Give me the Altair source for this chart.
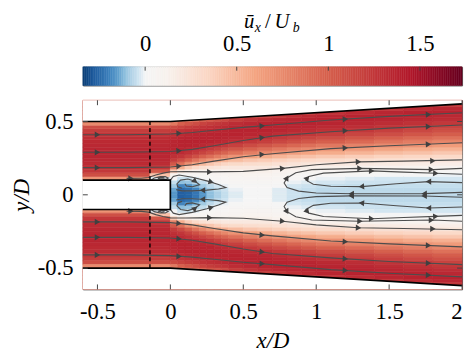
import altair as alt
import numpy as np
import pandas as pd

FONT = "Liberation Serif"

# ---------------- data ----------------
# mean axial velocity u_x/U_b on cells: column edges in x/D, row edges in |y|/D
# (upper half, mirrored to the lower half)
x_edges = [-0.6, -0.14, 0.0, 0.05, 0.1, 0.15, 0.2, 0.25, 0.3, 0.35, 0.4, 0.5,
           0.6, 0.7, 0.8, 0.9, 1.0, 1.2, 1.4, 1.6, 1.8, 2.0]
y_edges = [0.0, 0.025, 0.05, 0.075, 0.1, 0.125, 0.15, 0.175, 0.2, 0.225, 0.25, 0.275,
           0.3, 0.325, 0.35, 0.375, 0.4, 0.425, 0.45, 0.475, 0.5, 0.525, 0.55, 0.575,
           0.6, 0.625, 0.645]
profiles = [
    [0, 0, 0, 0, 0.7, 1.1, 1.25, 1.3, 1.33, 1.35, 1.36, 1.36, 1.36, 1.35, 1.34, 1.32,
     1.28, 1.22, 1.12, 0.75, 1, 1, 1, 1, 1, 1],
    [0, 0, 0, 0, -0.02, 0.45, 1.05, 1.25, 1.32, 1.35, 1.36, 1.36, 1.36, 1.35, 1.34, 1.32,
     1.28, 1.22, 1.12, 0.75, 1, 1, 1, 1, 1, 1],
    [-0.16, -0.14, -0.09, -0.05, 0.0, 0.1, 0.4, 0.8, 1.05, 1.22, 1.3, 1.35, 1.37, 1.37, 1.36,
     1.34, 1.3, 1.24, 1.14, 0.85, 0.7, 1, 1, 1, 1, 1],
    [-0.27, -0.25, -0.19, -0.11, -0.04, 0.03, 0.22, 0.55, 0.9, 1.12, 1.26, 1.33, 1.37, 1.38,
     1.38, 1.36, 1.33, 1.28, 1.18, 1.0, 0.8, 1, 1, 1, 1, 1],
    [-0.26, -0.23, -0.17, -0.1, -0.04, 0.03, 0.16, 0.4, 0.72, 1.0, 1.18, 1.29, 1.35, 1.38,
     1.38, 1.37, 1.35, 1.3, 1.22, 1.06, 0.85, 1, 1, 1, 1, 1],
    [-0.22, -0.19, -0.13, -0.07, -0.02, 0.04, 0.13, 0.32, 0.6, 0.88, 1.1, 1.24, 1.33, 1.37,
     1.38, 1.38, 1.36, 1.32, 1.25, 1.12, 0.92, 1, 1, 1, 1, 1],
    [-0.16, -0.13, -0.09, -0.05, 0.0, 0.05, 0.12, 0.27, 0.5, 0.77, 1.0, 1.17, 1.29, 1.35,
     1.38, 1.38, 1.37, 1.34, 1.28, 1.18, 1.0, 0.9, 1, 1, 1, 1],
    [-0.11, -0.09, -0.06, -0.02, 0.02, 0.06, 0.12, 0.24, 0.43, 0.68, 0.92, 1.1, 1.24, 1.32,
     1.37, 1.38, 1.38, 1.35, 1.3, 1.22, 1.05, 1, 1, 1, 1, 1],
    [-0.08, -0.06, -0.03, 0.0, 0.03, 0.07, 0.12, 0.22, 0.38, 0.6, 0.84, 1.03, 1.18, 1.29,
     1.35, 1.38, 1.38, 1.36, 1.32, 1.25, 1.1, 1, 1, 1, 1, 1],
    [-0.05, -0.04, -0.01, 0.02, 0.04, 0.08, 0.12, 0.2, 0.34, 0.54, 0.77, 0.97, 1.12, 1.25,
     1.33, 1.37, 1.38, 1.37, 1.34, 1.28, 1.15, 1, 1, 1, 1, 1],
    [-0.02, -0.01, 0.01, 0.03, 0.06, 0.09, 0.13, 0.2, 0.31, 0.48, 0.7, 0.9, 1.06, 1.2, 1.3,
     1.35, 1.38, 1.38, 1.36, 1.32, 1.22, 1.1, 1, 1, 1, 1],
    [0.0, 0.0, 0.02, 0.04, 0.07, 0.1, 0.14, 0.2, 0.29, 0.43, 0.62, 0.82, 0.99, 1.13, 1.25,
     1.32, 1.36, 1.38, 1.38, 1.35, 1.28, 1.15, 1, 1, 1, 1],
    [0.0, 0.0, 0.02, 0.04, 0.07, 0.1, 0.14, 0.2, 0.28, 0.4, 0.56, 0.75, 0.92, 1.07, 1.2,
     1.29, 1.35, 1.38, 1.38, 1.37, 1.32, 1.2, 1.05, 1, 1, 1],
    [-0.02, -0.02, 0.0, 0.02, 0.05, 0.08, 0.12, 0.18, 0.26, 0.37, 0.52, 0.69, 0.86, 1.01,
     1.15, 1.25, 1.32, 1.36, 1.38, 1.38, 1.35, 1.25, 1.1, 1, 1, 1],
    [-0.04, -0.04, -0.03, -0.01, 0.02, 0.05, 0.1, 0.16, 0.24, 0.34, 0.48, 0.64, 0.8, 0.96,
     1.1, 1.21, 1.29, 1.34, 1.37, 1.38, 1.36, 1.3, 1.15, 1, 1, 1],
    [-0.05, -0.05, -0.04, -0.02, 0.0, 0.03, 0.08, 0.14, 0.22, 0.32, 0.45, 0.6, 0.76, 0.91,
     1.05, 1.17, 1.26, 1.32, 1.36, 1.38, 1.37, 1.33, 1.2, 1.05, 1, 1],
    [-0.06, -0.06, -0.05, -0.03, -0.01, 0.02, 0.07, 0.13, 0.2, 0.3, 0.42, 0.56, 0.71, 0.86,
     1.0, 1.12, 1.22, 1.29, 1.34, 1.37, 1.38, 1.36, 1.28, 1.12, 1, 1],
    [-0.06, -0.06, -0.05, -0.04, -0.02, 0.01, 0.06, 0.12, 0.19, 0.28, 0.39, 0.52, 0.66, 0.8,
     0.94, 1.06, 1.17, 1.25, 1.31, 1.35, 1.38, 1.38, 1.33, 1.2, 1.05, 1],
    [-0.06, -0.06, -0.05, -0.04, -0.03, 0.0, 0.05, 0.11, 0.18, 0.26, 0.36, 0.48, 0.61, 0.75,
     0.88, 1.0, 1.11, 1.2, 1.27, 1.32, 1.36, 1.38, 1.36, 1.28, 1.12, 1],
    [-0.06, -0.06, -0.05, -0.04, -0.03, 0.0, 0.04, 0.1, 0.17, 0.25, 0.34, 0.45, 0.57, 0.7,
     0.83, 0.95, 1.06, 1.15, 1.23, 1.29, 1.34, 1.37, 1.38, 1.33, 1.2, 1],
    [-0.06, -0.06, -0.05, -0.04, -0.03, -0.01, 0.03, 0.09, 0.16, 0.23, 0.32, 0.42, 0.54,
     0.66, 0.78, 0.9, 1.01, 1.1, 1.18, 1.25, 1.31, 1.35, 1.38, 1.36, 1.26, 1.1],
]

wall_x = [-0.6, 0.0, 2.0]
wall_y = [0.5, 0.5, 0.62]
pipe_x = [-0.6, 0.0]
pipe_r = 0.1
dash_x = -0.14
dash_y = [0.1, 0.5]
y_top = 0.645

# streamlines, upper half (mirrored to the lower half)
streamlines = {
    "s1": [(-0.6, 0.41), (-0.3, 0.41), (0.0, 0.415), (0.15, 0.425), (0.3, 0.44), (0.5, 0.46),
           (0.7, 0.476), (1.1, 0.51), (1.5, 0.535), (2.0, 0.56)],
    "s2": [(-0.6, 0.29), (-0.3, 0.29), (0.0, 0.295), (0.15, 0.31), (0.3, 0.335), (0.5, 0.37),
           (0.7, 0.40), (1.1, 0.43), (1.5, 0.455), (2.0, 0.476)],
    "s3": [(-0.6, 0.185), (-0.3, 0.185), (0.0, 0.19), (0.15, 0.205), (0.3, 0.23), (0.5, 0.26),
           (0.7, 0.28), (1.1, 0.315), (1.5, 0.335), (2.0, 0.355)],
    "s4": [(-0.3, 0.112), (-0.2, 0.113), (-0.15, 0.118), (-0.1, 0.135), (-0.05, 0.148),
           (0.0, 0.157), (0.1, 0.158), (0.27, 0.156), (0.5, 0.16), (0.77, 0.18), (1.0, 0.205),
           (1.29, 0.225), (1.6, 0.23), (2.0, 0.238)],
    "s5": [(2.0, 0.017), (1.74, 0.008), (1.24, 0.007), (1.0, 0.012), (0.88, 0.025), (0.8, 0.05),
           (0.78, 0.08), (0.8, 0.115), (0.86, 0.15), (0.97, 0.172), (1.3, 0.18), (1.6, 0.175),
           (1.8, 0.172), (2.0, 0.18)],
    "s6": [(2.0, 0.083), (1.77, 0.09), (1.55, 0.075), (1.31, 0.056), (1.1, 0.058), (0.98, 0.072),
           (0.93, 0.1), (0.95, 0.125), (1.05, 0.148), (1.38, 0.163), (1.6, 0.155), (1.82, 0.147),
           (2.0, 0.14)],
    "w1": [(0.0, 0.1), (0.02, 0.125), (0.06, 0.135), (0.15, 0.12), (0.25, 0.095), (0.33, 0.07),
           (0.38, 0.05), (0.33, 0.04), (0.25, 0.032), (0.15, 0.027), (0.08, 0.027), (0.04, 0.035)],
    "w2": [(0.08, 0.045), (0.05, 0.055), (0.045, 0.075), (0.07, 0.1), (0.12, 0.108), (0.17, 0.092),
           (0.2, 0.068), (0.15, 0.055), (0.11, 0.06), (0.1, 0.075)],
    "c1": [(-0.13, 0.102), (-0.11, 0.115), (-0.07, 0.124), (-0.035, 0.124), (-0.015, 0.114),
           (-0.03, 0.105), (-0.065, 0.106), (-0.085, 0.112), (-0.06, 0.117), (-0.04, 0.115)],
}
# arrows: x, y (upper half), direction angle in degrees (screen, clockwise)
arrows = [
    (-0.5, 0.41, 0), (0.06, 0.42, -2), (0.63, 0.47, -3), (1.2, 0.516, -3), (1.77, 0.548, -2),
    (-0.5, 0.29, 0), (0.06, 0.30, -3), (0.63, 0.39, -6), (1.2, 0.437, -3), (1.77, 0.466, -2),
    (-0.5, 0.185, 0), (0.06, 0.195, -3), (0.63, 0.275, -4), (1.2, 0.32, -3), (1.77, 0.345, -2),
    (-0.27, 0.112, 0), (0.27, 0.156, 0), (0.77, 0.18, -5), (1.29, 0.225, -2), (1.8, 0.232, -1),
    (1.74, 0.008, 180), (1.24, 0.007, 180), (0.8, 0.115, -60), (1.3, 0.18, 0), (1.79, 0.172, 0),
    (1.77, 0.09, 180), (1.31, 0.056, 175), (0.94, 0.115, -50), (1.38, 0.163, 0), (1.82, 0.147, 3),
    (0.28, 0.087, 15), (0.22, 0.031, 180), (0.17, 0.092, 40),
]

x_ticks = [-0.5, 0, 0.5, 1, 1.5, 2]
y_ticks = [-0.5, 0, 0.5]
cb_ticks = [0, 0.5, 1, 1.5]
cb_min, cb_max = -0.34, 1.73
cb_domain = [-0.34, -0.28, -0.2, -0.15, -0.11, -0.07, -0.03, 0.0, 0.12, 0.35, 0.6, 1.0,
             1.45, 1.73]
cb_colors = ["#0b3d75", "#1f5c9e", "#3c7fbb", "#5d9dcc", "#8fc0de", "#b5d5e8", "#d3e6f1",
             "#f5f5f5", "#f8f2ee", "#fbd6c3", "#f4a582", "#d6604d", "#b2182b", "#67001f"]

# ---------------- tables ----------------
cells = []
for i in range(len(x_edges) - 1):
    for j in range(len(y_edges) - 1):
        v = profiles[i][j]
        for s in (1, -1):
            a, b = s * y_edges[j], s * y_edges[j + 1]
            cells.append(dict(x=x_edges[i], x2=x_edges[i + 1], y=min(a, b), y2=max(a, b), u=v))
cells = pd.DataFrame(cells)

rows = []
for name, pts in streamlines.items():
    for s, tag in ((1, "u"), (-1, "l")):
        for k, (px, py) in enumerate(pts):
            rows.append(dict(sid=name + tag, o=k, x=px, y=s * py))
lines_df = pd.DataFrame(rows)

arr = []
for ax_, ay_, ang in arrows:
    arr.append(dict(x=ax_, y=ay_, ang=ang % 360))
    arr.append(dict(x=ax_, y=-ay_, ang=(-ang) % 360))
arr_df = pd.DataFrame(arr)

mask_df = pd.DataFrame(dict(x=wall_x, yu=wall_y, tu=[y_top] * len(wall_x),
                            yl=[-w for w in wall_y], tl=[-y_top] * len(wall_x)))
wall_rows = []
for s, tag in ((1, "u"), (-1, "l")):
    for k, (wx, wy) in enumerate(zip(wall_x, wall_y)):
        wall_rows.append(dict(sid=tag, o=k, x=wx, y=s * wy))
wall_df = pd.DataFrame(wall_rows)
pipe_df = pd.DataFrame(dict(x=[pipe_x[0]], x2=[pipe_x[1]], y=[-pipe_r], y2=[pipe_r]))
pipe_line = pd.DataFrame(dict(o=[0, 1, 2, 3], x=[pipe_x[0], pipe_x[1], pipe_x[1], pipe_x[0]],
                              y=[pipe_r, pipe_r, -pipe_r, -pipe_r]))
dash_df = pd.DataFrame(dict(x=[dash_x, dash_x], y=[dash_y[0], -dash_y[1]], y2=[dash_y[1], -dash_y[0]]))
xt_df = pd.DataFrame(dict(v=x_ticks))
yt_df = pd.DataFrame(dict(v=y_ticks))

W, H = 385, 192
xs = alt.Scale(domain=[-0.6, 2.0], nice=False, zero=False)
ys = alt.Scale(domain=[-y_top, y_top], nice=False, zero=False)
cs = alt.Scale(domain=cb_domain, range=cb_colors, interpolate="rgb", clamp=True)
xax = alt.Axis(values=x_ticks, title="x/D", labelExpr="datum.value + ''",
               labelPadding=12, titlePadding=6, labelFlush=True, labelFont=FONT, titleFont=FONT)
yax = alt.Axis(values=y_ticks, title="y/D", labelExpr="datum.value + ''",
               labelPadding=10, titlePadding=4, labelFont=FONT, titleFont=FONT)


def X(f):
    return alt.X(f, scale=xs, axis=xax)


def Y(f):
    return alt.Y(f, scale=ys, axis=yax)


heat = alt.Chart(cells).mark_rect(strokeWidth=0.6).encode(
    x=X("x:Q"), x2="x2:Q", y=Y("y:Q"), y2="y2:Q",
    color=alt.Color("u:Q", scale=cs, legend=None),
    stroke=alt.Stroke("u:Q", scale=cs, legend=None),
)
mask_u = alt.Chart(mask_df).mark_area(color="white").encode(x=X("x:Q"), y=Y("yu:Q"), y2="tu:Q")
mask_l = alt.Chart(mask_df).mark_area(color="white").encode(x=X("x:Q"), y=Y("yl:Q"), y2="tl:Q")
pipe = alt.Chart(pipe_df).mark_rect(color="white").encode(x=X("x:Q"), x2="x2:Q", y=Y("y:Q"), y2="y2:Q")
sl = alt.Chart(lines_df).mark_line(color="#4d4d4d", strokeWidth=1.15).encode(
    x=X("x:Q"), y=Y("y:Q"), detail="sid:N", order="o:Q")
heads = alt.Chart(arr_df).mark_point(shape="triangle-right", filled=True, size=40,
                                     color="#404040", opacity=1).encode(
    x=X("x:Q"), y=Y("y:Q"), angle=alt.Angle("ang:Q", scale=None))
walls = alt.Chart(wall_df).mark_line(color="black", strokeWidth=1.7).encode(
    x=X("x:Q"), y=Y("y:Q"), detail="sid:N", order="o:Q")
pipe_edge = alt.Chart(pipe_line).mark_line(color="black", strokeWidth=1.7).encode(
    x=X("x:Q"), y=Y("y:Q"), order="o:Q")
dash = alt.Chart(dash_df).mark_rule(color="black", strokeWidth=1.4, strokeDash=[4, 3]).encode(
    x=X("x:Q"), y=Y("y:Q"), y2="y2:Q")
tk_b = alt.Chart(xt_df).mark_rule(color="#444444").encode(
    x=X("v:Q"), y=alt.value(H), y2=alt.value(H - 5))
tk_t = alt.Chart(xt_df).mark_rule(color="#444444").encode(
    x=X("v:Q"), y=alt.value(0), y2=alt.value(5))
tk_l = alt.Chart(yt_df).mark_rule(color="#444444").encode(
    y=Y("v:Q"), x=alt.value(0), x2=alt.value(5))
tk_r = alt.Chart(yt_df).mark_rule(color="#444444").encode(
    y=Y("v:Q"), x=alt.value(W), x2=alt.value(W - 5))

main = alt.layer(heat, mask_u, mask_l, pipe, sl, heads, walls, pipe_edge, dash,
                 tk_b, tk_t, tk_l, tk_r).properties(width=W, height=H)

# ---------------- colorbar ----------------
cbv = np.linspace(cb_min, cb_max, 208)
cb_df = pd.DataFrame(dict(a=cbv[:-1], b=cbv[1:], m=(cbv[:-1] + cbv[1:]) / 2))
cbs = alt.Scale(domain=[cb_min, cb_max], nice=False, zero=False)
cbax = alt.Axis(orient="top", values=cb_ticks, title=None, labelExpr="datum.value + ''",
                labelPadding=12, labelFont=FONT)
CBH = 19
cb_rect = alt.Chart(cb_df).mark_rect(strokeWidth=0.5).encode(
    x=alt.X("a:Q", scale=cbs, axis=cbax),
    x2="b:Q", y=alt.value(0), y2=alt.value(CBH),
    color=alt.Color("m:Q", scale=cs, legend=None),
    stroke=alt.Stroke("m:Q", scale=cs, legend=None))
cbt_df = pd.DataFrame(dict(v=cb_ticks))
cb_tk = alt.Chart(cbt_df).mark_rule(color="#444444").encode(
    x=alt.X("v:Q", scale=cbs, axis=cbax), y=alt.value(0), y2=alt.value(4))

one = pd.DataFrame(dict(k=[0]))
title_parts = [("\u016b", 163.5, -39, 21, "italic"), ("x", 174.5, -35, 14, "italic"),
               ("/", 185, -39, 21, "normal"), ("U", 194.5, -39, 21, "italic"),
               ("b", 213, -35, 14, "italic")]
tl = []
for t, px, py, fs, st in title_parts:
    tl.append(alt.Chart(one).mark_text(text=t, font=FONT, fontSize=fs, fontStyle=st,
                                       align="left", baseline="alphabetic", color="black").encode(
        x=alt.value(px), y=alt.value(py)))

cbar = alt.layer(cb_rect, cb_tk, *tl).properties(width=W, height=CBH)

chart = alt.vconcat(cbar, main, spacing=13).properties(
    padding={"left": 2, "top": 0, "right": 0, "bottom": 0}, background="white"
).configure_view(stroke="#555555", strokeWidth=1).configure_axis(
    grid=False, domain=False, ticks=False, labelFont=FONT, labelFontSize=23, labelColor="black",
    titleFont=FONT, titleFontSize=23, titleFontStyle="italic", titleFontWeight="normal",
    titleColor="black")

chart.save("out.html", embed_options={"renderer": "svg", "actions": False})
